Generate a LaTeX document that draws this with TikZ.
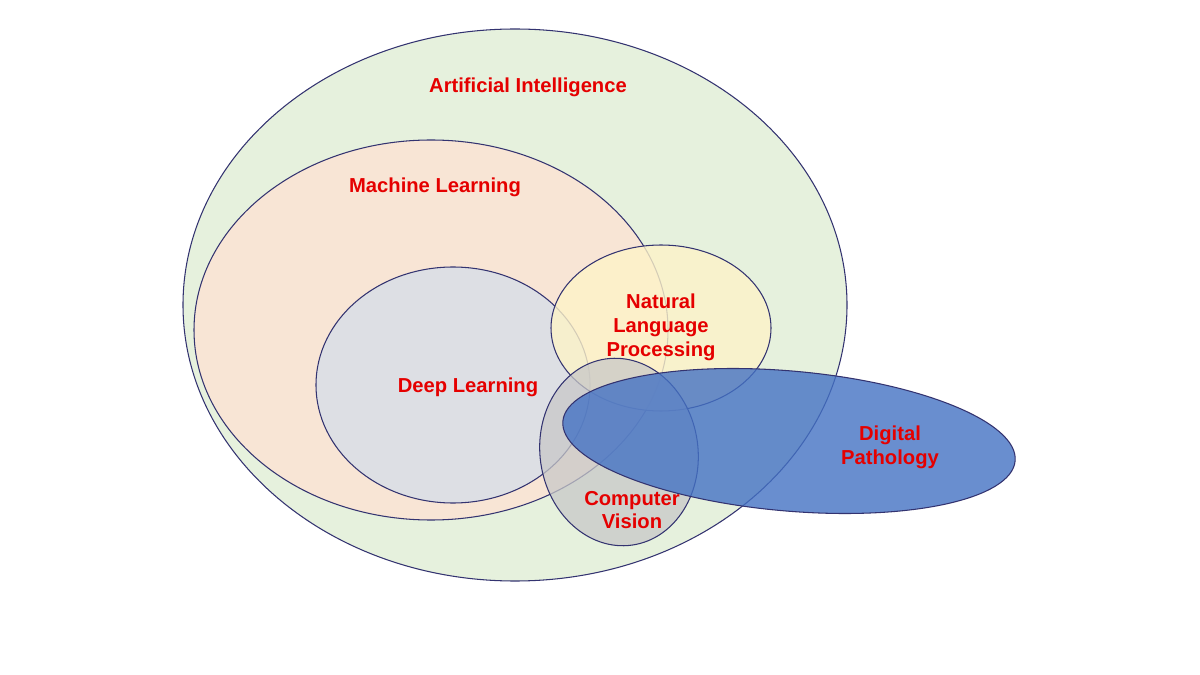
\documentclass[tikz,border=0pt]{standalone}
\usepackage{fontspec}
\setmainfont{Liberation Sans}
\begin{document}
\begin{tikzpicture}[x=0.02cm,y=-0.02cm,
  set/.style={draw=black!70!blue!80, line width=0.6pt},
  lab/.style={text=red!90!black, font=\fontsize{11.5}{13.6}\selectfont\bfseries, align=center}]
\useasboundingbox (0,0) rectangle (1200,675);
\fill[white] (0,0) rectangle (1200,675);
\path[set, fill={rgb,255:red,230;green,241;blue,221}] (515,305) ellipse [x radius=332, y radius=276];
\path[set, fill={rgb,255:red,248;green,229;blue,213}] (431,330) ellipse [x radius=237, y radius=190];
\path[set, fill={rgb,255:red,221;green,223;blue,228}] (453,385) ellipse [x radius=137, y radius=118];
\path[set, fill={rgb,255:red,253;green,243;blue,200}, fill opacity=0.8] (661,328) ellipse [x radius=110, y radius=83];
\path[set, fill={rgb,255:red,200;green,200;blue,200}, fill opacity=0.75] (619,452) ellipse [x radius=79, y radius=94, rotate=8];
\path[set, fill={rgb,255:red,68;green,114;blue,196}, fill opacity=0.8] (789,441) ellipse [x radius=227, y radius=70, rotate=-5];
\node[lab] (ai) at (528,87) {Artificial Intelligence};
\node[lab] (ml) at (435,187) {Machine Learning};
\node[lab] (dl) at (468,387) {Deep Learning};
\node[lab] (nlp) at (661,327) {Natural\\Language\\Processing};
\node[lab] (cv) at (632,510) {Computer\\Vision};
\node[lab] (dp) at (890,447) {Digital\\Pathology};
\end{tikzpicture}
\end{document}
